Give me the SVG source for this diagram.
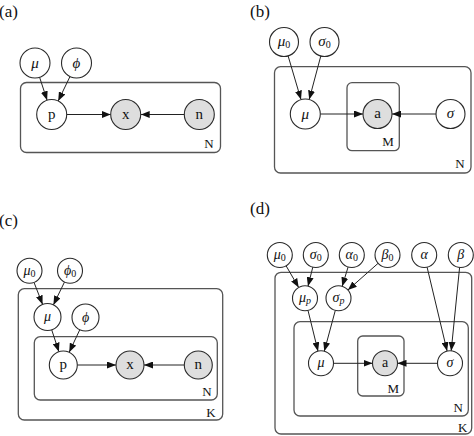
<svg xmlns="http://www.w3.org/2000/svg" width="474" height="436" viewBox="0 0 474 436" font-family="'Liberation Serif', 'DejaVu Serif', serif">
<defs>
<style>
.bg{fill:#fff}
.node{fill:#fff;stroke:#2a2a2a;stroke-width:1.1}
.obs{fill:#dedede;stroke:#2a2a2a;stroke-width:1.1}
.plate{fill:none;stroke:#555;stroke-width:1.3}
.edge{stroke:#222;stroke-width:1;fill:none;marker-end:url(#arr)}
text{font-family:'Liberation Serif','DejaVu Serif',serif;fill:#111}
.lbl{font-size:15px;text-anchor:middle}
.sm{font-size:14px;text-anchor:middle}
.gr{font-style:italic}
.sub{font-size:10px;font-style:normal}
.subi{font-size:10px;font-style:italic}
.plbl{font-size:13px;text-anchor:middle}
.panel{font-size:17px}
</style>
<marker id="arr" markerWidth="9" markerHeight="7" refX="9" refY="3.5" orient="auto" markerUnits="userSpaceOnUse">
<path d="M0,0 L9,3.5 L0,7 z" fill="#111"/>
</marker>
</defs>
<rect class="bg" x="0" y="0" width="474" height="436"/>

<!-- Panel labels -->
<g id="panel-labels" font-family="'Liberation Serif', serif">
<text class="panel" x="-1" y="17">(a)</text>
<text class="panel" x="250" y="17">(b)</text>
<text class="panel" x="-1" y="226">(c)</text>
<text class="panel" x="250" y="214">(d)</text>
</g>

<!-- Plates -->
<g id="plates" font-family="'Liberation Serif', serif">
<rect id="plate-a-N" class="plate" x="20.5" y="82.5" width="200" height="70" rx="6"/>
<rect id="plate-b-N" class="plate" x="274.5" y="66.7" width="196.5" height="106.3" rx="6"/>
<rect id="plate-b-M" class="plate" x="347" y="82.7" width="52.3" height="68" rx="5"/>
<rect id="plate-c-K" class="plate" x="18.3" y="288.7" width="204.4" height="131.3" rx="6"/>
<rect id="plate-c-N" class="plate" x="34.3" y="336.7" width="183" height="63.3" rx="6"/>
<rect id="plate-d-K" class="plate" x="275" y="272.3" width="196.7" height="161.7" rx="6"/>
<rect id="plate-d-N" class="plate" x="294" y="321.7" width="174.3" height="94.3" rx="6"/>
<rect id="plate-d-M" class="plate" x="357.7" y="336" width="46.3" height="60" rx="5"/>
<text class="plbl" x="209" y="148">N</text>
<text class="plbl" x="388" y="146">M</text>
<text class="plbl" x="460" y="168">N</text>
<text class="plbl" x="207" y="396">N</text>
<text class="plbl" x="211" y="417">K</text>
<text class="plbl" x="393.3" y="392.5">M</text>
<text class="plbl" x="458.3" y="411.5">N</text>
<text class="plbl" x="462.7" y="431.5">K</text>
</g>

<!-- Connectors -->
<g id="edges">
<line class="edge" x1="39.6" y1="77.3" x2="47.1" y2="100.2"/>
<line class="edge" x1="70" y1="76.5" x2="58.2" y2="101"/>
<line class="edge" x1="66.7" y1="114.5" x2="110.7" y2="114.5"/>
<line class="edge" x1="184.3" y1="114.5" x2="140.7" y2="114.5"/>

<line class="edge" x1="288.1" y1="55.9" x2="301" y2="99.6"/>
<line class="edge" x1="320.8" y1="56" x2="309.2" y2="99.5"/>
<line class="edge" x1="320.3" y1="114" x2="363" y2="114"/>
<line class="edge" x1="436" y1="114" x2="392" y2="114"/>

<line class="edge" x1="34" y1="282.4" x2="42.6" y2="304.4"/>
<line class="edge" x1="64.5" y1="282" x2="53.4" y2="304.9"/>
<line class="edge" x1="51.7" y1="329.8" x2="58.9" y2="351.7"/>
<line class="edge" x1="79.8" y1="329.7" x2="69.2" y2="352.3"/>
<line class="edge" x1="77.3" y1="365" x2="116" y2="365"/>
<line class="edge" x1="184.3" y1="365" x2="144" y2="365"/>

<line class="edge" x1="286.1" y1="265.8" x2="298.7" y2="287.5"/>
<line class="edge" x1="312.8" y1="267.1" x2="308" y2="286.2"/>
<line class="edge" x1="348.1" y1="267" x2="342.2" y2="286.3"/>
<line class="edge" x1="378.1" y1="263.3" x2="347.9" y2="290"/>
<line class="edge" x1="308" y1="310.4" x2="318" y2="351.2"/>
<line class="edge" x1="335.3" y1="310.4" x2="324.3" y2="351.2"/>
<line class="edge" x1="427.1" y1="267.2" x2="447.1" y2="351.1"/>
<line class="edge" x1="459.6" y1="267.4" x2="451.2" y2="350.9"/>
<line class="edge" x1="333.5" y1="363.3" x2="372.5" y2="363.3"/>
<line class="edge" x1="437.5" y1="363.3" x2="397.5" y2="363.3"/>
</g>

<!-- Panel (a) nodes -->
<g id="a-mu"><circle class="node" cx="35" cy="63" r="15"/><text class="lbl gr" x="35" y="67.5">μ</text></g>
<g id="a-phi"><circle class="node" cx="76.5" cy="63" r="15"/><text class="lbl gr" x="76.5" y="68">ϕ</text></g>
<g id="a-p"><circle class="node" cx="51.7" cy="114.5" r="15"/><text class="lbl" x="51.7" y="118.5">p</text></g>
<g id="a-x"><circle class="obs" cx="125.7" cy="114.5" r="15"/><text class="lbl" x="125.7" y="118.5">x</text></g>
<g id="a-n"><circle class="obs" cx="199.3" cy="114.5" r="15"/><text class="lbl" x="199.3" y="118.5">n</text></g>

<!-- Panel (b) nodes -->
<g id="b-mu0"><circle class="node" cx="284" cy="42" r="14.5"/><text class="lbl" x="284" y="46"><tspan class="gr">μ</tspan><tspan class="sub" dy="2">0</tspan></text></g>
<g id="b-sigma0"><circle class="node" cx="324.5" cy="42" r="14.5"/><text class="lbl" x="324.5" y="46"><tspan class="gr">σ</tspan><tspan class="sub" dy="2">0</tspan></text></g>
<g id="b-mu"><circle class="node" cx="305.3" cy="114" r="15"/><text class="lbl gr" x="305.3" y="118.5">μ</text></g>
<g id="b-a"><circle class="obs" cx="377.5" cy="114" r="14.5"/><text class="lbl" x="377.5" y="118">a</text></g>
<g id="b-sigma"><circle class="node" cx="450.5" cy="114" r="14.5"/><text class="lbl gr" x="450.5" y="118">σ</text></g>

<!-- Panel (c) nodes -->
<g id="c-mu0"><circle class="node" cx="29.5" cy="270.8" r="12.5"/><text class="sm" x="29.5" y="274.5"><tspan class="gr">μ</tspan><tspan class="sub" dy="2">0</tspan></text></g>
<g id="c-phi0"><circle class="node" cx="70" cy="270.8" r="12.5"/><text class="sm" x="70" y="274.5"><tspan class="gr">ϕ</tspan><tspan class="sub" dy="2">0</tspan></text></g>
<g id="c-mu"><circle class="node" cx="47.5" cy="317" r="13.5"/><text class="sm gr" x="47.5" y="321">μ</text></g>
<g id="c-phi"><circle class="node" cx="85.5" cy="317.5" r="13.5"/><text class="sm gr" x="85.5" y="322">ϕ</text></g>
<g id="c-p"><circle class="node" cx="63.3" cy="365" r="14"/><text class="lbl" x="63.3" y="369">p</text></g>
<g id="c-x"><circle class="obs" cx="130" cy="365" r="14"/><text class="lbl" x="130" y="369">x</text></g>
<g id="c-n"><circle class="obs" cx="198.3" cy="365" r="14"/><text class="lbl" x="198.3" y="369">n</text></g>

<!-- Panel (d) nodes -->
<g id="d-mu0"><circle class="node" cx="279.8" cy="255" r="12.5"/><text class="sm" x="279.8" y="258.5"><tspan class="gr">μ</tspan><tspan class="sub" dy="2">0</tspan></text></g>
<g id="d-sigma0"><circle class="node" cx="315.8" cy="255" r="12.5"/><text class="sm" x="315.8" y="258.5"><tspan class="gr">σ</tspan><tspan class="sub" dy="2">0</tspan></text></g>
<g id="d-alpha0"><circle class="node" cx="351.8" cy="255" r="12.5"/><text class="sm" x="351.8" y="258.5"><tspan class="gr">α</tspan><tspan class="sub" dy="2">0</tspan></text></g>
<g id="d-beta0"><circle class="node" cx="387.5" cy="255" r="12.5"/><text class="sm" x="387.5" y="258.5"><tspan class="gr">β</tspan><tspan class="sub" dy="2">0</tspan></text></g>
<g id="d-alpha"><circle class="node" cx="424.2" cy="255" r="12.5"/><text class="sm gr" x="424.2" y="259">α</text></g>
<g id="d-beta"><circle class="node" cx="460.8" cy="255" r="12.5"/><text class="sm gr" x="460.8" y="259">β</text></g>
<g id="d-mup"><circle class="node" cx="305" cy="298.3" r="12.5"/><text class="sm" x="305" y="301.5"><tspan class="gr">μ</tspan><tspan class="subi" dy="2">p</tspan></text></g>
<g id="d-sigmap"><circle class="node" cx="338.5" cy="298.3" r="12.5"/><text class="sm" x="338.5" y="301.5"><tspan class="gr">σ</tspan><tspan class="subi" dy="2">p</tspan></text></g>
<g id="d-mu"><circle class="node" cx="321" cy="363.3" r="12.5"/><text class="sm gr" x="321" y="367">μ</text></g>
<g id="d-a"><circle class="obs" cx="385" cy="363.3" r="12.5"/><text class="sm" x="385" y="367">a</text></g>
<g id="d-sigma"><circle class="node" cx="450" cy="363.3" r="12.5"/><text class="sm gr" x="450" y="367">σ</text></g>
</svg>
